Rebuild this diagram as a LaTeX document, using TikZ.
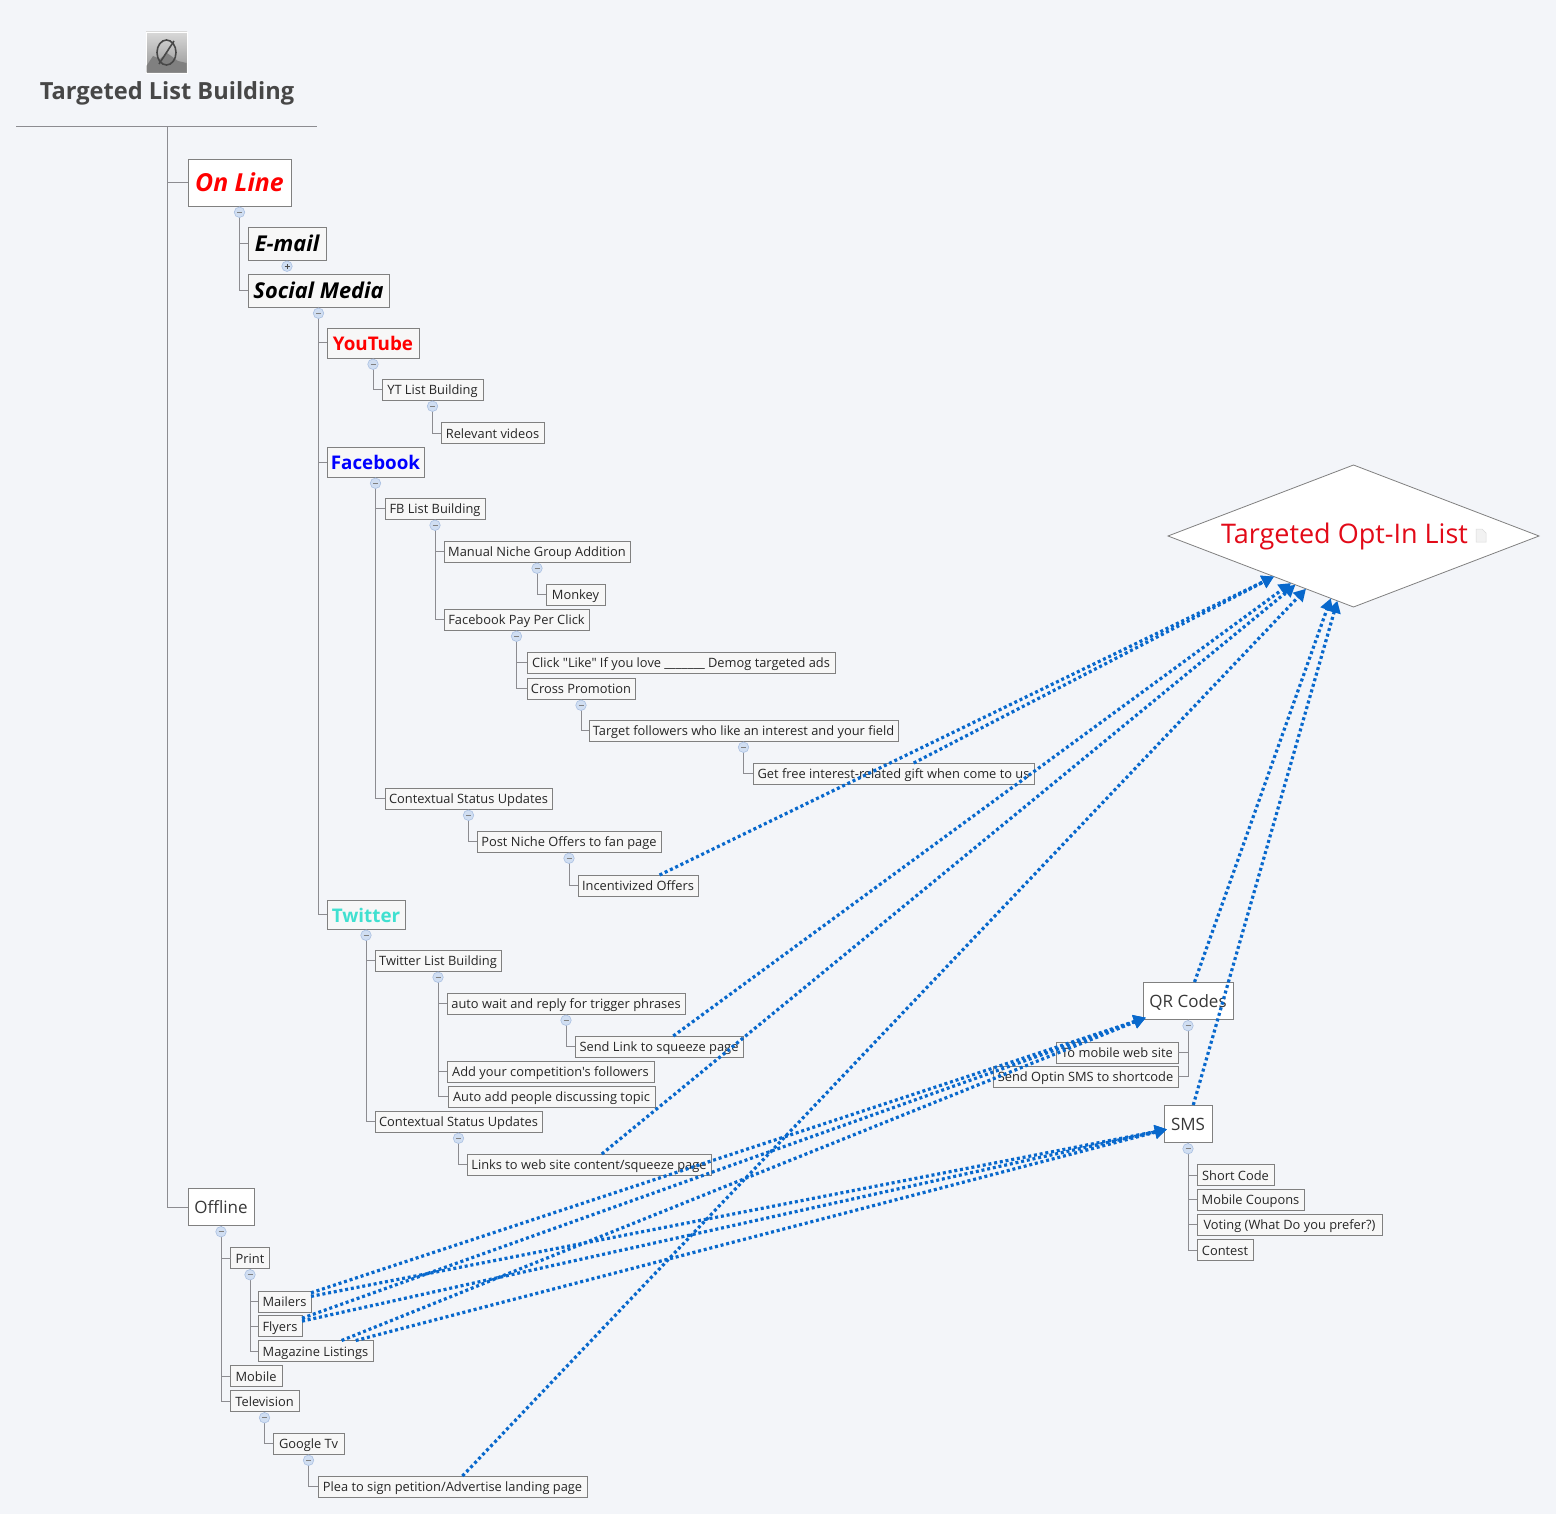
\documentclass[tikz,border=0pt]{standalone}
\usepackage{fontspec}
\setmainfont{Open Sans}
\newfontfamily\mapfont{Open Sans}
\usetikzlibrary{positioning,shapes.geometric,arrows.meta}
\definecolor{pagebg}{RGB}{243,245,249}
\definecolor{boxgray}{RGB}{128,128,128}
\definecolor{branchgray}{RGB}{140,140,145}
\definecolor{togglefill}{RGB}{208,222,242}
\definecolor{toggleedge}{RGB}{170,192,226}
\definecolor{linkblue}{RGB}{8,104,204}
\definecolor{optred}{RGB}{226,10,24}
\definecolor{twcolor}{RGB}{64,224,208}
\tikzset{
	leaf/.style={draw=boxgray,fill=black!3,line width=0.8pt,inner sep=0pt,outer sep=0pt,minimum height=21pt,text height=11pt,text depth=1pt,text=black!85,font=\mapfont\fontsize{12.85}{15}\selectfont},
	mainbox/.style={leaf,fill=white,text height=14.5pt,text depth=1pt,text=black!78,font=\fontsize{17}{20}\selectfont},
	brand/.style={leaf,minimum height=30pt,text height=15.5pt,text depth=0pt,font=\fontsize{18.8}{24}\selectfont\bfseries},
	slanted/.style={leaf,minimum height=33pt,text height=17pt,text depth=1pt,text=black,font=\fontsize{21.8}{25}\selectfont\bfseries\itshape},
	toggle/.style={circle,draw=toggleedge,fill=togglefill,line width=0.6pt,minimum size=10.5pt,inner sep=0pt,outer sep=0pt,
		path picture={\draw[boxgray,line width=0.6pt] ([xshift=-2.5pt]path picture bounding box.center) -- ([xshift=2.5pt]path picture bounding box.center);}},
	plustoggle/.style={toggle,path picture={\draw[black!70,line width=0.6pt] ([xshift=-2.5pt]path picture bounding box.center) -- ([xshift=2.5pt]path picture bounding box.center) ([yshift=-2.5pt]path picture bounding box.center) -- ([yshift=2.5pt]path picture bounding box.center);}},
	branch/.style={draw=branchgray,line width=1pt},
	link/.style={draw=linkblue,line width=3.2pt,dash pattern=on 3pt off 2.8pt,-{Triangle[length=12pt,width=13pt]}}
}
\begin{document}
\begin{tikzpicture}[x=1pt,y=-1pt]
	\fill[pagebg] (0,0) rectangle (1556,1514);
	\useasboundingbox (0,0) rectangle (1556,1514);

	\node[draw=white,line width=0.8pt,minimum size=41pt,inner sep=0pt,outer sep=0pt,top color=black!15,bottom color=black!42] (rootimg) at (166.5,52.5) {};
	\fill[black!50] (146.5,66) -- (153,56) -- (160,59) -- (167,53) -- (178,61) -- (186.5,63) -- (186.5,72.5) -- (146.5,72.5) -- cycle;
	\draw[black!72,line width=1.6pt] (rootimg.center) ellipse (9.5pt and 12.5pt);
	\draw[black!72,line width=1.6pt] (174,41) -- (159,64);
	\node[text=black!72,font=\fontsize{23.6}{28}\selectfont\bfseries] (roottitle) at (167,93) {Targeted List Building};
	\coordinate (barleft) at (16,127);
	\coordinate (barright) at (317,127);
	\coordinate (barmid) at (167,127);

	\node[leaf,fill=white,minimum width=103pt,minimum height=47pt,text height=18pt,text depth=0pt,text=red,font=\fontsize{24.8}{28}\selectfont\bfseries\itshape] (online) at (239.5,182.5) {On Line};
	\node[slanted,minimum width=78pt] (email) at (287,243.5) {E-mail};
	\node[slanted,minimum width=141pt] (social) at (318.5,290.5) {Social Media};

	\node[brand,text=red,minimum width=92pt] (youtube) at (373,343) {YouTube};
	\node[leaf,minimum width=101pt] (ytbuild) at (432.5,389.5) {YT List Building};
	\node[leaf,minimum width=103pt] (ytvideos) at (492.5,433) {Relevant videos};

	\node[brand,text=blue,minimum width=97pt] (facebook) at (375.5,462) {Facebook};
	\node[leaf,minimum width=100pt] (fbbuild) at (435,508.5) {FB List Building};
	\node[leaf,minimum width=186pt] (fbmanual) at (537,551.5) {Manual Niche Group Addition};
	\node[leaf,minimum width=59pt] (fbmonkey) at (575.5,594.5) {Monkey};
	\node[leaf,minimum width=145pt] (fbppc) at (516.5,619.5) {Facebook Pay Per Click};
	\node[leaf,minimum width=308pt] (fblike) at (681,662.5) {Click "Like" If you love \_\_\_\_\_\_\_ Demog targeted ads};
	\node[leaf,minimum width=108pt] (fbcross) at (581,688.5) {Cross Promotion};
	\node[leaf,minimum width=309pt] (fbtarget) at (743.5,730.5) {Target followers who like an interest and your field};
	\node[leaf,minimum width=281pt] (fbgift) at (893.5,773.5) {Get free interest-related gift when come to us};
	\node[leaf,minimum width=167pt] (fbstatus) at (468.5,798.5) {Contextual Status Updates};
	\node[leaf,minimum width=184pt] (fbpost) at (569,841.5) {Post Niche Offers to fan page};
	\node[leaf,minimum width=120pt] (fboffers) at (638,885.5) {Incentivized Offers};

	\node[brand,text=twcolor,minimum width=78pt,minimum height=29pt] (twitter) at (366,914.5) {Twitter};
	\node[leaf,minimum width=126pt] (twbuild) at (438,960.5) {Twitter List Building};
	\node[leaf,minimum width=238pt] (twauto) at (566,1003.5) {auto wait and reply for trigger phrases};
	\node[leaf,minimum width=168pt] (twsend) at (659,1046.5) {Send Link to squeeze page};
	\node[leaf,minimum width=207pt] (twcompete) at (550.5,1071.5) {Add your competition's followers};
	\node[leaf,minimum width=207pt] (twpeople) at (551.5,1096.5) {Auto add people discussing topic};
	\node[leaf,minimum width=167pt] (twstatus) at (458.5,1121.5) {Contextual Status Updates};
	\node[leaf,minimum width=244pt] (twlinks) at (589,1164.5) {Links to web site content/squeeze page};

	\node[mainbox,minimum width=66pt,minimum height=37pt] (offline) at (221,1207) {Offline};
	\node[leaf,minimum width=39pt] (print) at (250,1258) {Print};
	\node[leaf,minimum width=53pt] (mailers) at (284.5,1301.5) {Mailers};
	\node[leaf,minimum width=44pt] (flyers) at (280,1326) {Flyers};
	\node[leaf,minimum width=115pt] (magazine) at (315.5,1351) {Magazine Listings};
	\node[leaf,minimum width=52pt] (mobile) at (256,1376) {Mobile};
	\node[leaf,minimum width=69pt] (television) at (264.5,1401) {Television};
	\node[leaf,minimum width=71pt] (googletv) at (308.5,1443.5) {Google Tv};
	\node[leaf,minimum width=269pt] (plea) at (452.5,1486.5) {Plea to sign petition/Advertise landing page};

	\node[mainbox,minimum width=90pt,minimum height=37pt] (qrcodes) at (1188,1000.5) {QR Codes};
	\node[leaf,minimum width=122pt] (qrmobile) at (1117,1052.5) {To mobile web site};
	\node[leaf,minimum width=185pt] (qroptin) at (1085.5,1076.5) {Send Optin SMS to shortcode};
	\node[mainbox,minimum width=48pt,minimum height=37pt] (sms) at (1188,1123.5) {SMS};
	\node[leaf,minimum width=77pt] (smscode) at (1235.5,1175) {Short Code};
	\node[leaf,minimum width=107pt] (smscoupon) at (1250.5,1199.5) {Mobile Coupons};
	\node[leaf,minimum width=185pt] (smsvote) at (1289.5,1224.5) {Voting (What Do you prefer?)};
	\node[leaf,minimum width=56pt] (smscontest) at (1225,1250) {Contest};

	\node[diamond,draw=boxgray,fill=white,line width=0.8pt,aspect=2.613,minimum width=371pt,minimum height=142pt,inner sep=0pt,outer sep=0pt,text=optred,font=\fontsize{27}{30}\selectfont] (optin) at (1353.5,536) {\raisebox{-1pt}{Targeted Opt-In List}\kern18pt};
	\fill[black!5,draw=black!14,line width=0.5pt] (1476,529) -- (1482,529) -- (1486,533) -- (1486,542) -- (1476,542) -- cycle;

	\draw[branch] (barleft) -- (barright);
	\draw[branch] (barmid) |- (online.west);
	\draw[branch] (barmid) |- (offline.west);
	\draw[branch] (online.south) |- (email.west);
	\draw[branch] (online.south) |- (social.west);
	\draw[branch] (social.south) |- (youtube.west);
	\draw[branch] (social.south) |- (facebook.west);
	\draw[branch] (social.south) |- (twitter.west);
	\draw[branch] (youtube.south) |- (ytbuild.west);
	\draw[branch] (ytbuild.south) |- (ytvideos.west);
	\draw[branch] (facebook.south) |- (fbbuild.west);
	\draw[branch] (facebook.south) |- (fbstatus.west);
	\draw[branch] (fbbuild.south) |- (fbmanual.west);
	\draw[branch] (fbbuild.south) |- (fbppc.west);
	\draw[branch] (fbmanual.south) |- (fbmonkey.west);
	\draw[branch] (fbppc.south) |- (fblike.west);
	\draw[branch] (fbppc.south) |- (fbcross.west);
	\draw[branch] (fbcross.south) |- (fbtarget.west);
	\draw[branch] (fbtarget.south) |- (fbgift.west);
	\draw[branch] (fbstatus.south) |- (fbpost.west);
	\draw[branch] (fbpost.south) |- (fboffers.west);
	\draw[branch] (twitter.south) |- (twbuild.west);
	\draw[branch] (twitter.south) |- (twstatus.west);
	\draw[branch] (twbuild.south) |- (twauto.west);
	\draw[branch] (twbuild.south) |- (twcompete.west);
	\draw[branch] (twbuild.south) |- (twpeople.west);
	\draw[branch] (twauto.south) |- (twsend.west);
	\draw[branch] (twstatus.south) |- (twlinks.west);
	\draw[branch] (offline.south) |- (print.west);
	\draw[branch] (offline.south) |- (mobile.west);
	\draw[branch] (offline.south) |- (television.west);
	\draw[branch] (print.south) |- (mailers.west);
	\draw[branch] (print.south) |- (flyers.west);
	\draw[branch] (print.south) |- (magazine.west);
	\draw[branch] (television.south) |- (googletv.west);
	\draw[branch] (googletv.south) |- (plea.west);
	\draw[branch] (qrcodes.south) |- (qrmobile.east);
	\draw[branch] (qrcodes.south) |- (qroptin.east);
	\draw[branch] (sms.south) |- (smscode.west);
	\draw[branch] (sms.south) |- (smscoupon.west);
	\draw[branch] (sms.south) |- (smsvote.west);
	\draw[branch] (sms.south) |- (smscontest.west);

	\node[toggle,below=1pt of online] (onlinet) {};
	\node[plustoggle,below=1pt of email] (emailt) {};
	\node[toggle,below=1pt of social] (socialt) {};
	\node[toggle,below=1pt of youtube] (youtubet) {};
	\node[toggle,below=1pt of ytbuild] (ytbuildt) {};
	\node[toggle,below=1pt of facebook] (facebookt) {};
	\node[toggle,below=1pt of fbbuild] (fbbuildt) {};
	\node[toggle,below=1pt of fbmanual] (fbmanualt) {};
	\node[toggle,below=1pt of fbppc] (fbppct) {};
	\node[toggle,below=1pt of fbcross] (fbcrosst) {};
	\node[toggle,below=1pt of fbtarget] (fbtargett) {};
	\node[toggle,below=1pt of fbstatus] (fbstatust) {};
	\node[toggle,below=1pt of fbpost] (fbpostt) {};
	\node[toggle,below=1pt of twitter] (twittert) {};
	\node[toggle,below=1pt of twbuild] (twbuildt) {};
	\node[toggle,below=1pt of twauto] (twautot) {};
	\node[toggle,below=1pt of twstatus] (twstatust) {};
	\node[toggle,below=1pt of offline] (offlinet) {};
	\node[toggle,below=1pt of print] (printt) {};
	\node[toggle,below=1pt of television] (televisiont) {};
	\node[toggle,below=1pt of googletv] (googletvt) {};
	\node[toggle,below=1.5pt of qrcodes] (qrcodest) {};
	\node[toggle,below=1.5pt of sms] (smst) {};

	\draw[link] (fboffers) -- (optin.207.3);
	\draw[link] (fbgift) -- (optin.207.3);
	\draw[link] (twsend) -- (optin.217.4);
	\draw[link] (twlinks) -- (optin.220.9);
	\draw[link] (plea) -- (optin.228.1);
	\draw[link] (qrcodes) -- (optin.250.9);
	\draw[link] (sms) -- (optin.256.4);
	\draw[link,shorten >=-3pt] (mailers) -- (qrcodes.202);
	\draw[link,shorten >=-3pt] (flyers) -- (qrcodes.202);
	\draw[link,shorten >=-3pt] (magazine) -- (qrcodes.202);
	\draw[link,shorten >=-3pt] (mailers) -- (sms.195);
	\draw[link,shorten >=-3pt] (flyers) -- (sms.195);
	\draw[link,shorten >=-3pt] (magazine) -- (sms.195);
\end{tikzpicture}
\end{document}
